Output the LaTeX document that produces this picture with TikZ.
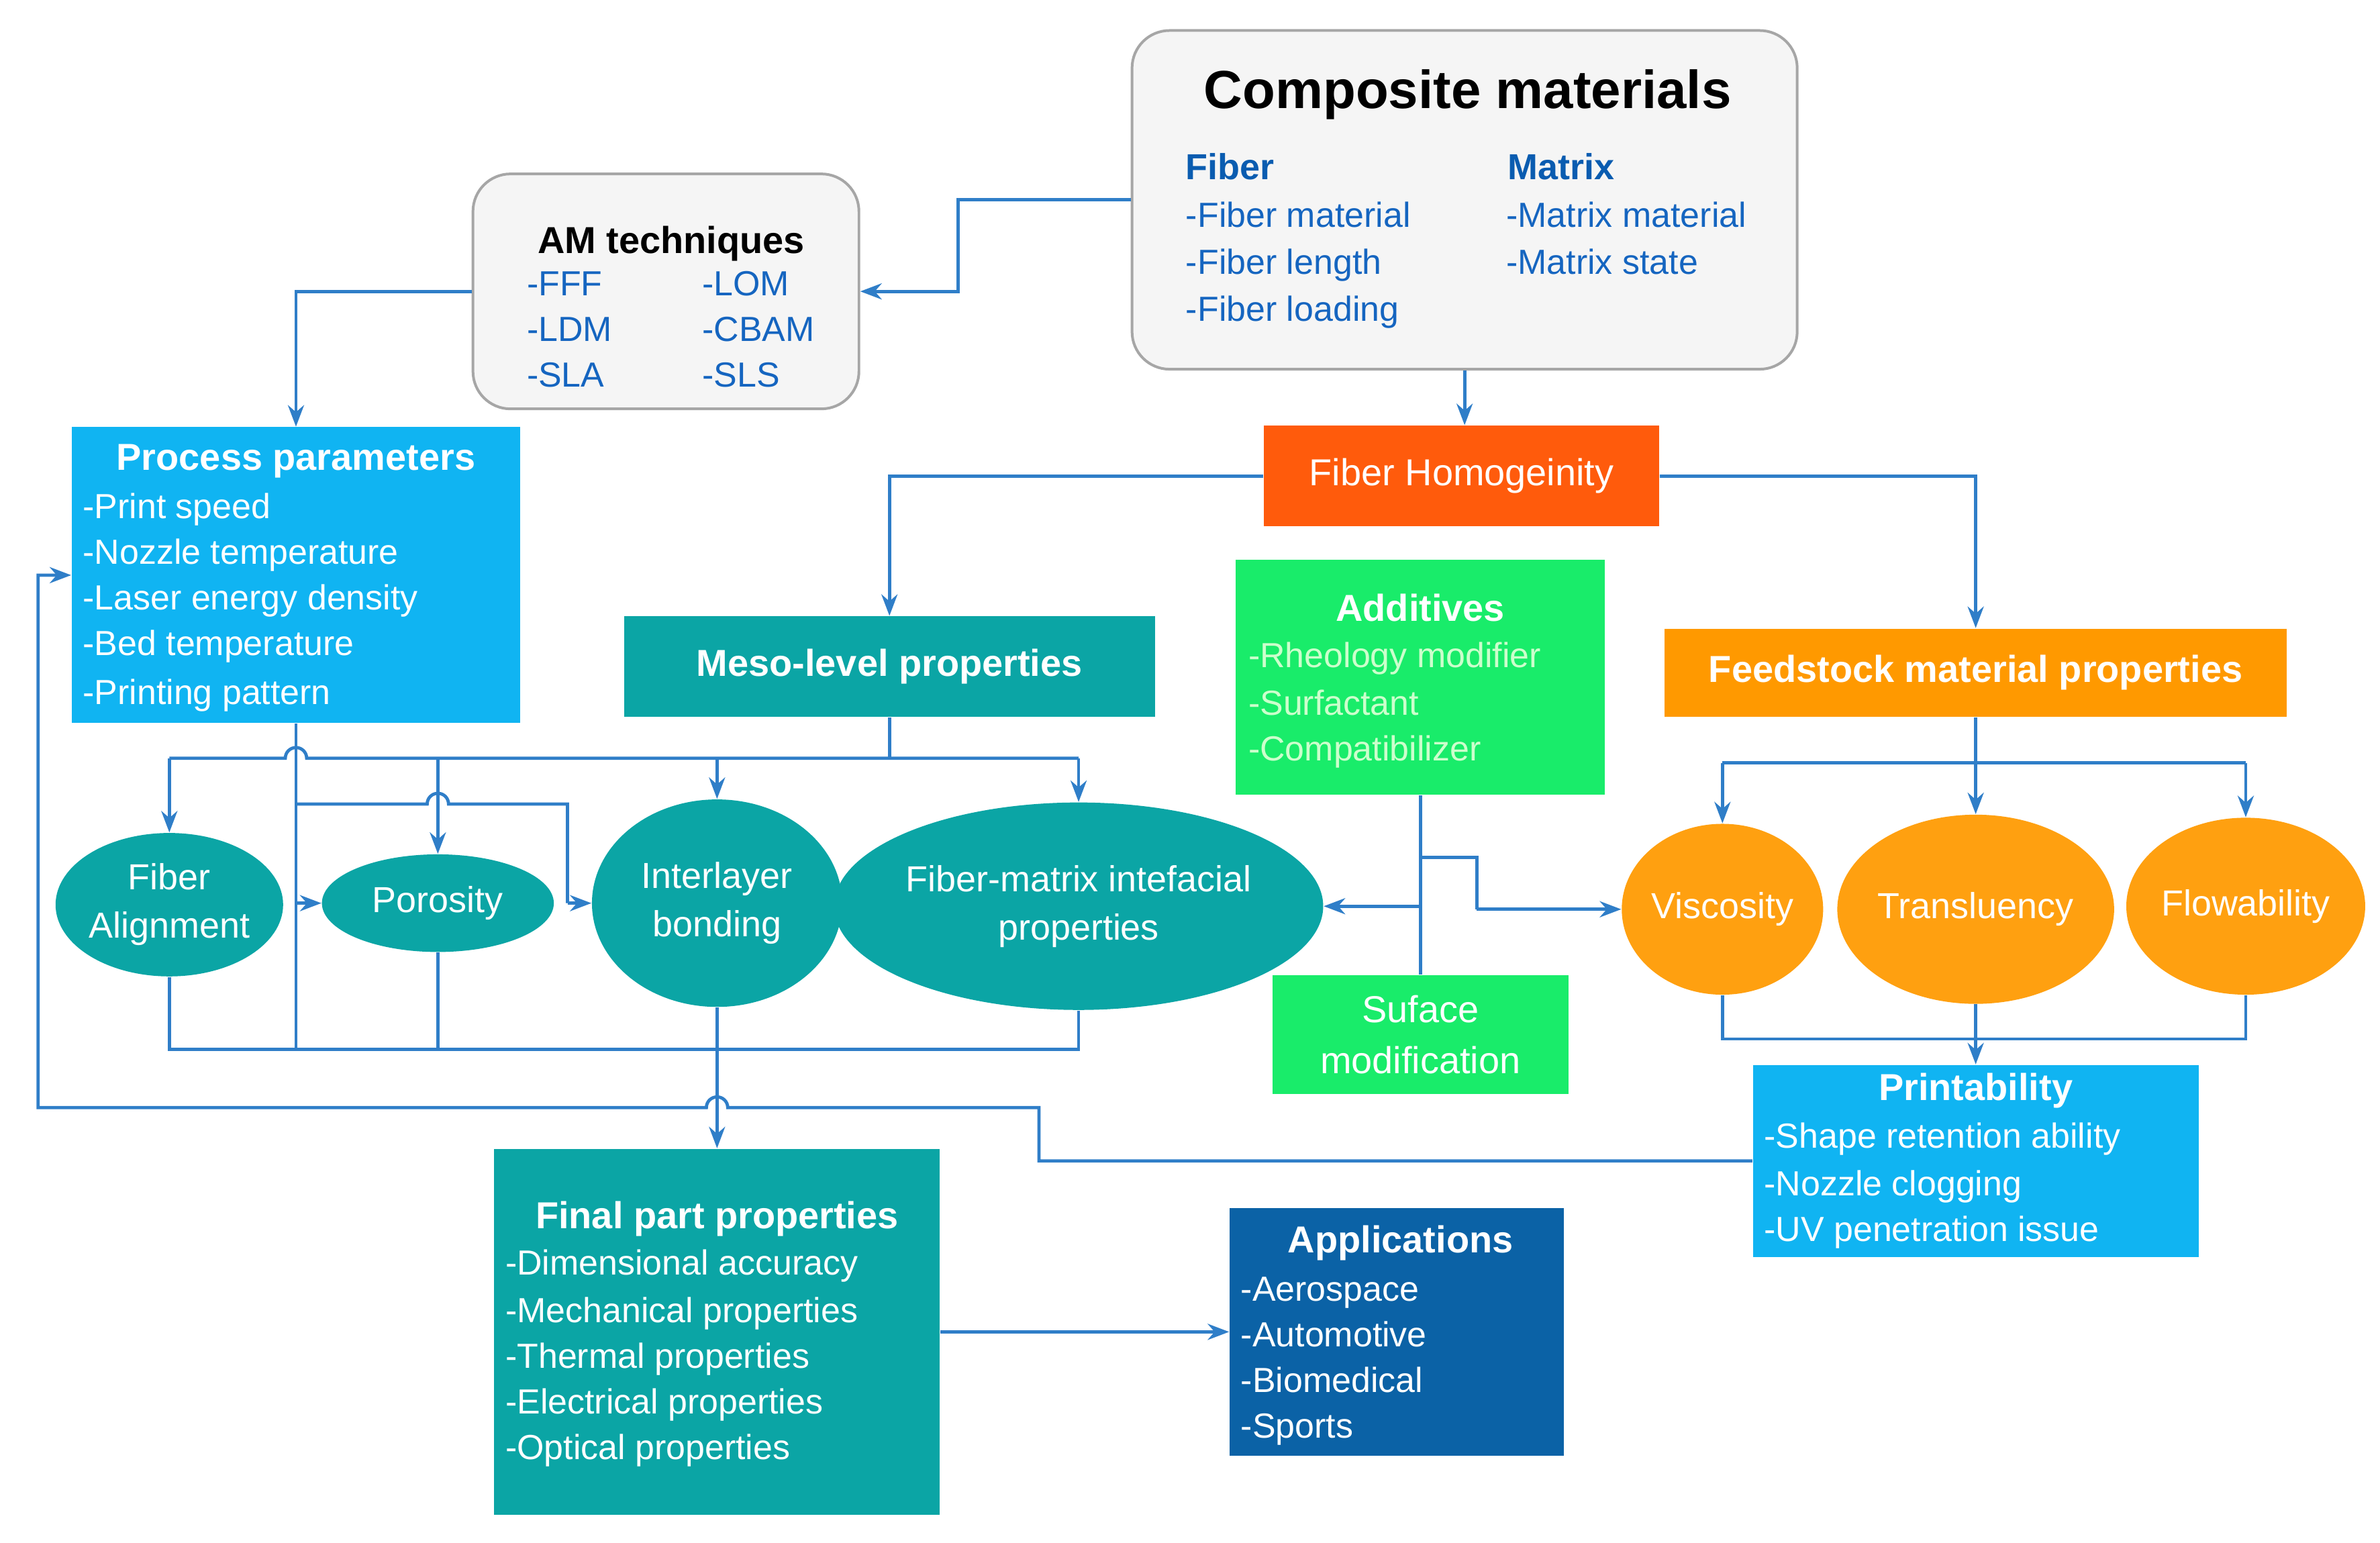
\documentclass[tikz,border=0pt]{standalone}
\usepackage{fontspec}
\setmainfont{Liberation Sans}
\usetikzlibrary{shapes.geometric,arrows.meta}
\newlength\uu \setlength\uu{0.02cm}
\definecolor{lnc}{HTML}{2F7EC8}
\definecolor{sky}{HTML}{10B4F2}
\definecolor{teal2}{HTML}{0BA5A5}
\definecolor{grn}{HTML}{19EC6A}
\definecolor{fhc}{HTML}{FF5B0C}
\definecolor{fdc}{HTML}{FF9900}
\definecolor{orc}{HTML}{FFA010}
\definecolor{appc}{HTML}{0B62A6}
\definecolor{blt}{HTML}{1565C0}
\definecolor{bltd}{HTML}{0A5CB0}
\tikzset{
 box/.style={draw=none,inner sep=0pt},
 rbox/.style={draw=gray!70,line width=1pt,rounded corners=14pt,fill=gray!8,inner sep=0pt},
 ell/.style={ellipse,draw=none,inner sep=0pt,text=white,align=center,font=\fontsize{13.5}{18}\selectfont},
 lst/.style={anchor=west,inner sep=0pt,text height=9.5pt,text depth=3pt,font=\fontsize{13}{16}\selectfont},
 ttl/.style={inner sep=0pt,text height=10pt,text depth=3pt,font=\fontsize{14}{17}\selectfont\bfseries},
 ln/.style={draw=lnc,line width=1.2pt},
 arr/.style={ln,-{Stealth[length=8pt,width=6pt]}}
}
\begin{document}
\begin{tikzpicture}[x=0.02cm,y=-0.02cm]
\useasboundingbox (0,0) rectangle (1560,1011);
% boxes
\node[rbox,minimum width=436\uu,minimum height=222\uu] (cm) at (960,131) {};
\node[rbox,minimum width=253\uu,minimum height=154\uu] (am) at (436.5,191) {};
\node[box,fill=sky,minimum width=294\uu,minimum height=194\uu] (pp) at (194,377) {};
\node[box,fill=fhc,minimum width=259\uu,minimum height=66\uu,text=white,font=\fontsize{14}{17}\selectfont] (fh) at (958,312) {Fiber Homogeinity};
\node[box,fill=teal2,minimum width=348\uu,minimum height=66\uu,text=white,font=\fontsize{14}{17}\selectfont\bfseries] (meso) at (583,437) {Meso-level properties};
\node[box,fill=grn,minimum width=242\uu,minimum height=154\uu] (add) at (931,444) {};
\node[box,fill=fdc,minimum width=408\uu,minimum height=58\uu,text=white,font=\fontsize{14}{17}\selectfont\bfseries] (feed) at (1295,441) {Feedstock material properties};
\node[box,fill=grn,minimum width=194\uu,minimum height=78\uu,text=white,align=center,font=\fontsize{14}{18}\selectfont] (surf) at (931,678) {Suface\\[1pt]modification};
\node[box,fill=sky,minimum width=292\uu,minimum height=126\uu] (print) at (1295,761) {};
\node[box,fill=teal2,minimum width=292\uu,minimum height=240\uu] (final) at (470,873) {};
\node[box,fill=appc,minimum width=219\uu,minimum height=162\uu] (app) at (915.5,873) {};
% ellipses
\node[ell,fill=teal2,minimum width=146\uu,minimum height=94\uu] (fa) at (111,593) {Fiber\\Alignment};
\node[ell,fill=teal2,minimum width=152\uu,minimum height=64\uu] (por) at (287,592) {Porosity};
\node[ell,fill=teal2,minimum width=164\uu,minimum height=136\uu] (ib) at (470,592) {Interlayer\\bonding};
\node[ell,fill=teal2,minimum width=290\uu,minimum height=136\uu] (fmi) at (707,594) {Fiber-matrix intefacial\\properties};
\node[ell,fill=orc,minimum width=132\uu,minimum height=112\uu] (visc) at (1129,596) {Viscosity};
\node[ell,fill=orc,minimum width=180\uu,minimum height=124\uu] (trans) at (1295,596) {Transluency};
\node[ell,fill=orc,minimum width=144\uu,minimum height=116\uu] (flow) at (1472,594) {Flowability};
% texts: composite
\node[inner sep=0pt,font=\fontsize{20}{24}\selectfont\bfseries] (cmt) at (962,62) {Composite materials};
\node[lst,text=bltd,font=\fontsize{13.5}{16}\selectfont\bfseries] (fbt) at (777,112) {Fiber};
\node[lst,text=blt] (f1) at (777,143) {-Fiber material};
\node[lst,text=blt] (f2) at (777,174) {-Fiber length};
\node[lst,text=blt] (f3) at (777,205) {-Fiber loading};
\node[lst,text=bltd,font=\fontsize{13.5}{16}\selectfont\bfseries] (mxt) at (988,112) {Matrix};
\node[lst,text=blt] (m1) at (987,143) {-Matrix material};
\node[lst,text=blt] (m2) at (987,174) {-Matrix state};
% AM
\node[ttl,text=black] (amt) at (440,160) {AM techniques};
\node[lst,text=blt] (a1) at (345,188) {-FFF};
\node[lst,text=blt] (a2) at (345,218) {-LDM};
\node[lst,text=blt] (a3) at (345,248) {-SLA};
\node[lst,text=blt] (a4) at (460,188) {-LOM};
\node[lst,text=blt] (a5) at (460,218) {-CBAM};
\node[lst,text=blt] (a6) at (460,248) {-SLS};
% PP
\node[ttl,text=white] (ppt) at (194,302) {Process parameters};
\node[lst,text=white] (p1) at (54,334) {-Print speed};
\node[lst,text=white] (p2) at (54,364) {-Nozzle temperature};
\node[lst,text=white] (p3) at (54,394) {-Laser energy density};
\node[lst,text=white] (p4) at (54,424) {-Bed temperature};
\node[lst,text=white] (p5) at (54,456) {-Printing pattern};
% additives
\node[ttl,text=white] (adt) at (931,401) {Additives};
\node[lst,text=white!80!green] (d1) at (818,432) {-Rheology modifier};
\node[lst,text=white!80!green] (d2) at (818,463) {-Surfactant};
\node[lst,text=white!80!green] (d3) at (818,493) {-Compatibilizer};
% printability
\node[ttl,text=white] (prt) at (1295,715) {Printability};
\node[lst,text=white] (r1) at (1156,747) {-Shape retention ability};
\node[lst,text=white] (r2) at (1156,778) {-Nozzle clogging};
\node[lst,text=white] (r3) at (1156,808) {-UV penetration issue};
% final
\node[ttl,text=white] (fnt) at (470,799) {Final part properties};
\node[lst,text=white] (n1) at (331,830) {-Dimensional accuracy};
\node[lst,text=white] (n2) at (331,861) {-Mechanical properties};
\node[lst,text=white] (n3) at (331,891) {-Thermal properties};
\node[lst,text=white] (n4) at (331,921) {-Electrical properties};
\node[lst,text=white] (n5) at (331,951) {-Optical properties};
% applications
\node[ttl,text=white] (apt) at (918,815) {Applications};
\node[lst,text=white] (s1) at (813,847) {-Aerospace};
\node[lst,text=white] (s2) at (813,877) {-Automotive};
\node[lst,text=white] (s3) at (813,907) {-Biomedical};
\node[lst,text=white] (s4) at (813,937) {-Sports};
% connectors
\draw[arr] (cm.west) -- (628,131) |- (am.east);
\draw[arr] (am.west) -| (pp.north);
\draw[arr] (cm.south) -- (cm.south|-fh.north);
\draw[arr] (fh.west) -| (meso.north);
\draw[arr] (fh.east) -| (feed.north);
\draw[ln] (meso.south) -- (583,497);
\draw[ln] (111,497) -- (187,497) arc[start angle=180,end angle=360,radius=7] -- (707,497);
\draw[arr] (111,497) -- (fa.north);
\draw[arr] (470,497) -- (ib.north);
\draw[arr] (707,497) -- (fmi.north);
\draw[arr] (287,497) -- (por.north);
\draw[ln] (pp.south) -- (194,688);
\draw[ln] (194,527) -- (280,527) arc[start angle=180,end angle=360,radius=7] -- (372,527) -- (372,592);
\draw[arr] (372,592) -- (ib.west);
\draw[arr] (194,592) -- (por.west);
\draw[ln] (fa.south) -- (111,688) -- (707,688) -- (fmi.south);
\draw[ln] (por.south) -- (287,688);
\draw[arr] (ib.south) -- (final.north);
\draw[arr] (print.west) -- (681,761) -- (681,726) -- (477,726) arc[start angle=0,end angle=-180,radius=7] -- (25,726) -- (25,377) -- (pp.west);
\draw[ln] (add.south) -- (surf.north);
\draw[arr] (931,594) -- (fmi.east);
\draw[ln] (931,562) -- (968,562) -- (968,596);
\draw[arr] (968,596) -- (visc.west);
\draw[ln] (feed.south) -- (1295,500);
\draw[ln] (1129,500) -- (1472,500);
\draw[arr] (1129,500) -- (visc.north);
\draw[arr] (1295,500) -- (trans.north);
\draw[arr] (1472,500) -- (flow.north);
\draw[ln] (visc.south) -- (1129,681) -- (1472,681) -- (flow.south);
\draw[arr] (trans.south) -- (print.north);
\draw[arr] (final.east) -- (app.west);
\end{tikzpicture}
\end{document}
